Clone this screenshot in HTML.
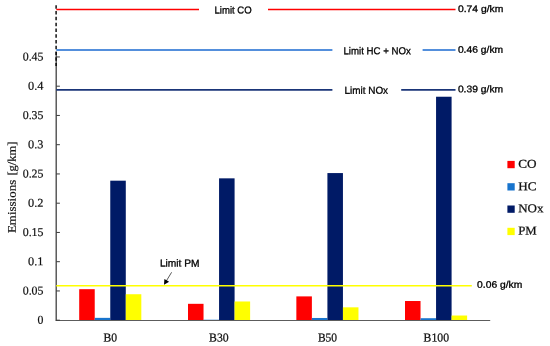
<!DOCTYPE html>
<html><head><meta charset="utf-8"><title>Emissions</title>
<style>
html,body{margin:0;padding:0;background:#fff;}
svg{display:block;}
text{text-rendering:geometricPrecision;}
.tk{font-family:"Liberation Serif",serif;font-size:12.3px;fill:#111;}
.cat{font-family:"Liberation Serif",serif;font-size:11.5px;fill:#111;}
.lg{font-family:"Liberation Serif",serif;font-size:12px;fill:#111;}
.sn{font-family:"Liberation Sans",sans-serif;font-size:10px;fill:#000;}
</style></head><body>
<svg width="550" height="346" viewBox="0 0 550 346">
<rect width="550" height="346" fill="#fff"/>

<rect x="79.20" y="289.19" width="15.53" height="31.00" fill="#ff0000"/>
<rect x="94.73" y="317.86" width="15.53" height="2.34" fill="#1874cd"/>
<rect x="110.26" y="180.68" width="15.53" height="139.52" fill="#001a66"/>
<rect x="125.79" y="294.23" width="15.53" height="25.97" fill="#ffff00"/>
<rect x="188.00" y="303.82" width="15.53" height="16.38" fill="#ff0000"/>
<rect x="203.53" y="319.73" width="15.53" height="0.47" fill="#1874cd"/>
<rect x="219.06" y="178.34" width="15.53" height="141.86" fill="#001a66"/>
<rect x="234.59" y="301.48" width="15.53" height="18.72" fill="#ffff00"/>
<rect x="296.35" y="296.39" width="15.53" height="23.81" fill="#ff0000"/>
<rect x="311.88" y="317.98" width="15.53" height="2.22" fill="#1874cd"/>
<rect x="327.41" y="173.07" width="15.53" height="147.13" fill="#001a66"/>
<rect x="342.94" y="307.33" width="15.53" height="12.87" fill="#ffff00"/>
<rect x="405.00" y="301.01" width="15.53" height="19.19" fill="#ff0000"/>
<rect x="420.53" y="318.21" width="15.53" height="1.99" fill="#1874cd"/>
<rect x="436.06" y="96.73" width="15.53" height="223.47" fill="#001a66"/>
<rect x="451.59" y="315.52" width="15.53" height="4.68" fill="#ffff00"/>
<line x1="55.699999999999996" y1="320.45" x2="490.2" y2="320.45" stroke="#5c5c5c" stroke-width="1.1"/>
<line x1="56.199999999999996" y1="52" x2="56.199999999999996" y2="320.8" stroke="#404040" stroke-width="1.3"/>
<line x1="56.099999999999994" y1="5.3" x2="56.099999999999994" y2="66" stroke="#000" stroke-width="1.4" stroke-dasharray="3.5 2.28"/>
<line x1="56.3" y1="320.20" x2="59.9" y2="320.20" stroke="#3a3a3a" stroke-width="1"/>
<text transform="translate(37.60,323.80) rotate(0.05)" font-family='"Liberation Serif", serif' font-size="12.00" fill="#111" stroke="#111" stroke-width="0.2" textLength="5.90" lengthAdjust="spacingAndGlyphs">0</text>
<line x1="56.3" y1="290.95" x2="59.9" y2="290.95" stroke="#3a3a3a" stroke-width="1"/>
<text transform="translate(22.70,294.55) rotate(0.05)" font-family='"Liberation Serif", serif' font-size="12.00" fill="#111" stroke="#111" stroke-width="0.2" textLength="20.80" lengthAdjust="spacingAndGlyphs">0.05</text>
<line x1="56.3" y1="261.70" x2="59.9" y2="261.70" stroke="#3a3a3a" stroke-width="1"/>
<text transform="translate(28.10,265.30) rotate(0.05)" font-family='"Liberation Serif", serif' font-size="12.00" fill="#111" stroke="#111" stroke-width="0.2" textLength="15.40" lengthAdjust="spacingAndGlyphs">0.1</text>
<line x1="56.3" y1="232.45" x2="59.9" y2="232.45" stroke="#3a3a3a" stroke-width="1"/>
<text transform="translate(22.70,236.05) rotate(0.05)" font-family='"Liberation Serif", serif' font-size="12.00" fill="#111" stroke="#111" stroke-width="0.2" textLength="20.80" lengthAdjust="spacingAndGlyphs">0.15</text>
<line x1="56.3" y1="203.20" x2="59.9" y2="203.20" stroke="#3a3a3a" stroke-width="1"/>
<text transform="translate(28.10,206.80) rotate(0.05)" font-family='"Liberation Serif", serif' font-size="12.00" fill="#111" stroke="#111" stroke-width="0.2" textLength="15.40" lengthAdjust="spacingAndGlyphs">0.2</text>
<line x1="56.3" y1="173.95" x2="59.9" y2="173.95" stroke="#3a3a3a" stroke-width="1"/>
<text transform="translate(22.70,177.55) rotate(0.05)" font-family='"Liberation Serif", serif' font-size="12.00" fill="#111" stroke="#111" stroke-width="0.2" textLength="20.80" lengthAdjust="spacingAndGlyphs">0.25</text>
<line x1="56.3" y1="144.70" x2="59.9" y2="144.70" stroke="#3a3a3a" stroke-width="1"/>
<text transform="translate(28.10,148.30) rotate(0.05)" font-family='"Liberation Serif", serif' font-size="12.00" fill="#111" stroke="#111" stroke-width="0.2" textLength="15.40" lengthAdjust="spacingAndGlyphs">0.3</text>
<line x1="56.3" y1="115.45" x2="59.9" y2="115.45" stroke="#3a3a3a" stroke-width="1"/>
<text transform="translate(22.70,119.05) rotate(0.05)" font-family='"Liberation Serif", serif' font-size="12.00" fill="#111" stroke="#111" stroke-width="0.2" textLength="20.80" lengthAdjust="spacingAndGlyphs">0.35</text>
<line x1="56.3" y1="86.20" x2="59.9" y2="86.20" stroke="#3a3a3a" stroke-width="1"/>
<text transform="translate(28.10,89.80) rotate(0.05)" font-family='"Liberation Serif", serif' font-size="12.00" fill="#111" stroke="#111" stroke-width="0.2" textLength="15.40" lengthAdjust="spacingAndGlyphs">0.4</text>
<line x1="56.3" y1="56.95" x2="59.9" y2="56.95" stroke="#3a3a3a" stroke-width="1"/>
<text transform="translate(22.70,60.55) rotate(0.05)" font-family='"Liberation Serif", serif' font-size="12.00" fill="#111" stroke="#111" stroke-width="0.2" textLength="20.80" lengthAdjust="spacingAndGlyphs">0.45</text>
<line x1="56.3" y1="9.5" x2="199" y2="9.5" stroke="#ff0000" stroke-width="1.45"/>
<line x1="268" y1="9.5" x2="455.5" y2="9.5" stroke="#ff0000" stroke-width="1.45"/>
<line x1="56.3" y1="50.0" x2="332.4" y2="50.0" stroke="#1a6ad0" stroke-width="1.5"/>
<line x1="422.6" y1="50.0" x2="455.5" y2="50.0" stroke="#1a6ad0" stroke-width="1.5"/>
<line x1="56.3" y1="89.85" x2="332.4" y2="89.85" stroke="#1a3578" stroke-width="1.8"/>
<line x1="401.2" y1="89.85" x2="455.5" y2="89.85" stroke="#1a3578" stroke-width="1.8"/>
<line x1="56.3" y1="285.8" x2="471.8" y2="285.8" stroke="#ffff00" stroke-width="1.5"/>
<text transform="translate(214.50,13.50) rotate(0.05)" font-family='"Liberation Sans", sans-serif' font-size="10.15" fill="#000" stroke="#000" stroke-width="0.3" textLength="37.20" lengthAdjust="spacingAndGlyphs">Limit CO</text>
<text transform="translate(343.50,54.15) rotate(0.05)" font-family='"Liberation Sans", sans-serif' font-size="10.15" fill="#000" stroke="#000" stroke-width="0.3" textLength="67.30" lengthAdjust="spacingAndGlyphs">Limit HC + NOx</text>
<text transform="translate(344.50,93.75) rotate(0.05)" font-family='"Liberation Sans", sans-serif' font-size="10.15" fill="#000" stroke="#000" stroke-width="0.3" textLength="43.60" lengthAdjust="spacingAndGlyphs">Limit NOx</text>
<text transform="translate(159.90,266.60) rotate(0.05)" font-family='"Liberation Sans", sans-serif' font-size="10.15" fill="#000" stroke="#000" stroke-width="0.3" textLength="39.70" lengthAdjust="spacingAndGlyphs">Limit PM</text>
<text transform="translate(458.00,11.90) rotate(0.05)" font-family='"Liberation Sans", sans-serif' font-size="9.50" fill="#000" stroke="#000" stroke-width="0.3" textLength="45.40" lengthAdjust="spacingAndGlyphs">0.74 g/km</text>
<text transform="translate(457.90,52.70) rotate(0.05)" font-family='"Liberation Sans", sans-serif' font-size="9.50" fill="#000" stroke="#000" stroke-width="0.3" textLength="45.20" lengthAdjust="spacingAndGlyphs">0.46 g/km</text>
<text transform="translate(457.90,92.20) rotate(0.05)" font-family='"Liberation Sans", sans-serif' font-size="9.50" fill="#000" stroke="#000" stroke-width="0.3" textLength="45.20" lengthAdjust="spacingAndGlyphs">0.39 g/km</text>
<text transform="translate(477.10,287.70) rotate(0.05)" font-family='"Liberation Sans", sans-serif' font-size="9.50" fill="#000" stroke="#000" stroke-width="0.3" textLength="45.20" lengthAdjust="spacingAndGlyphs">0.06 g/km</text>
<line x1="171.6" y1="272.3" x2="166.2" y2="281.2" stroke="#222" stroke-width="0.75"/>
<polygon points="164.0,284.8 164.4,278.9 169.1,281.7" fill="#000"/>
<rect x="507.4" y="160.9" width="7.3" height="7.3" fill="#ff0000"/>
<text transform="translate(518.20,167.80) rotate(0.05)" font-family='"Liberation Serif", serif' font-size="12.00" fill="#111" stroke="#111" stroke-width="0.25" textLength="18.30" lengthAdjust="spacingAndGlyphs">CO</text>
<rect x="507.4" y="183.2" width="7.3" height="7.3" fill="#1874cd"/>
<text transform="translate(518.20,190.20) rotate(0.05)" font-family='"Liberation Serif", serif' font-size="12.00" fill="#111" stroke="#111" stroke-width="0.25" textLength="18.30" lengthAdjust="spacingAndGlyphs">HC</text>
<rect x="507.4" y="205.5" width="7.3" height="7.3" fill="#001a66"/>
<text transform="translate(518.20,212.30) rotate(0.05)" font-family='"Liberation Serif", serif' font-size="12.00" fill="#111" stroke="#111" stroke-width="0.25" textLength="25.30" lengthAdjust="spacingAndGlyphs">NOx</text>
<rect x="507.4" y="227.8" width="7.3" height="7.3" fill="#ffff00"/>
<text transform="translate(518.20,234.50) rotate(0.05)" font-family='"Liberation Serif", serif' font-size="12.00" fill="#111" stroke="#111" stroke-width="0.25" textLength="18.50" lengthAdjust="spacingAndGlyphs">PM</text>
<text transform="translate(103.50,341.50) rotate(0.05)" font-family='"Liberation Serif", serif' font-size="12.10" fill="#111" stroke="#111" stroke-width="0.25" textLength="13.60" lengthAdjust="spacingAndGlyphs">B0</text>
<text transform="translate(209.10,341.50) rotate(0.05)" font-family='"Liberation Serif", serif' font-size="12.10" fill="#111" stroke="#111" stroke-width="0.25" textLength="19.60" lengthAdjust="spacingAndGlyphs">B30</text>
<text transform="translate(317.90,341.50) rotate(0.05)" font-family='"Liberation Serif", serif' font-size="12.10" fill="#111" stroke="#111" stroke-width="0.25" textLength="19.20" lengthAdjust="spacingAndGlyphs">B50</text>
<text transform="translate(423.60,341.50) rotate(0.05)" font-family='"Liberation Serif", serif' font-size="12.10" fill="#111" stroke="#111" stroke-width="0.25" textLength="25.40" lengthAdjust="spacingAndGlyphs">B100</text>
<text transform="translate(15.70,233.10) rotate(-90.05)" font-family='"Liberation Serif", serif' font-size="11.70" fill="#111" stroke="#111" stroke-width="0.2" textLength="53.30" lengthAdjust="spacingAndGlyphs">Emissions</text>
<text transform="translate(15.70,175.60) rotate(-90.05)" font-family='"Liberation Serif", serif' font-size="11.70" fill="#111" stroke="#111" stroke-width="0.2" textLength="34.00" lengthAdjust="spacingAndGlyphs">[g/km]</text>
</svg></body></html>
